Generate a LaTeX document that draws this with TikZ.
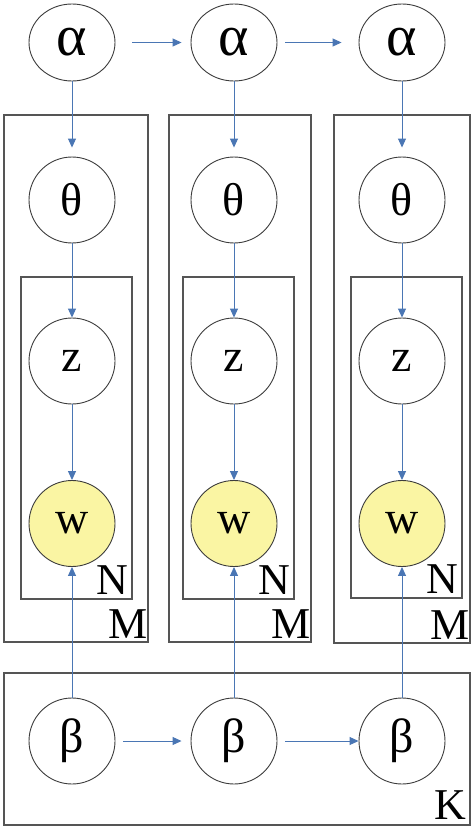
\documentclass[tikz,border=0pt]{standalone}
\usepackage{fontspec}
\setmainfont{Liberation Serif}
\usetikzlibrary{arrows.meta}
\definecolor{arrowblue}{HTML}{4A76B4}
\definecolor{obsfill}{HTML}{FAF5A3}
\definecolor{circstroke}{HTML}{3C3C3C}
\definecolor{platestroke}{HTML}{555555}
\tikzset{
  var/.style={circle, draw=circstroke, line width=0.9pt, minimum size=86pt, inner sep=0pt, fill=white},
  hyper/.style={ellipse, draw=circstroke, line width=0.9pt, minimum width=86pt, minimum height=77pt, inner sep=0pt},
  obs/.style={var, fill=obsfill},
  plate/.style={draw=platestroke, line width=1.2pt, inner sep=0pt},
  platelabel/.style={anchor=base east, inner sep=0pt, font=\fontsize{44}{46}\selectfont},
  edge/.style={draw=arrowblue, line width=1pt, -{Triangle[length=9pt,width=8pt]}},
}
\usetikzlibrary{shapes.geometric}
\begin{document}
\begin{tikzpicture}[x=1pt, y=-1pt]
\useasboundingbox (0,0) rectangle (474,829);
% plates
\node[plate, minimum width=144pt, minimum height=527pt] (M1) at (76,378.5) {};
\node[plate, minimum width=142pt, minimum height=527pt] (M2) at (240,378.5) {};
\node[plate, minimum width=136pt, minimum height=528pt] (M3) at (402,379) {};
\node[plate, minimum width=111pt, minimum height=322pt] (N1) at (76.5,438) {};
\node[plate, minimum width=111pt, minimum height=322pt] (N2) at (238.5,438) {};
\node[plate, minimum width=111pt, minimum height=321pt] (N3) at (406.5,437.5) {};
\node[plate, minimum width=466pt, minimum height=152pt] (K) at (237,749) {};
% plate labels
\node[platelabel] (lN1) at ([shift={(-4,-5)}]N1.south east) {N};
\node[platelabel] (lN2) at ([shift={(-4,-5)}]N2.south east) {N};
\node[platelabel] (lN3) at ([shift={(-4,-5)}]N3.south east) {N};
\node[platelabel] (lM1) at ([shift={(-1,-4)}]M1.south east) {M};
\node[platelabel] (lM2) at ([shift={(-1,-4)}]M2.south east) {M};
\node[platelabel] (lM3) at ([shift={(-1,-4)}]M3.south east) {M};
\node[platelabel] (lK) at ([shift={(-4,-6)}]K.south east) {K};
% variables
\foreach \i/\x in {1/72, 2/234, 3/402} {
  \node[hyper, font=\fontsize{58}{60}\selectfont] (a\i) at (\x,42.5) {α};
  \node[var, font=\fontsize{46}{48}\selectfont] (t\i) at (\x,200) {θ};
  \node[var, font=\fontsize{46}{48}\selectfont] (z\i) at (\x,361) {z};
  \node[obs, font=\fontsize{46}{48}\selectfont] (w\i) at (\x,523.5) {w};
  \node[var, font=\fontsize{48}{50}\selectfont] (b\i) at (\x,741) {β};
}
% edges
\foreach \i in {1,2,3} {
  \draw[edge, shorten >=9pt] (a\i) -- (t\i);
  \draw[edge] (t\i) -- (z\i);
  \draw[edge] (z\i) -- (w\i);
  \draw[edge] (b\i) -- (w\i);
}
\draw[edge, shorten <=17pt, shorten >=9pt] (a1) -- (a2);
\draw[edge, shorten <=8pt, shorten >=17pt] (a2) -- (a3);
\draw[edge, shorten <=8pt, shorten >=9pt] (b1) -- (b2);
\draw[edge, shorten <=8pt] (b2) -- (b3);
\end{tikzpicture}
\end{document}
